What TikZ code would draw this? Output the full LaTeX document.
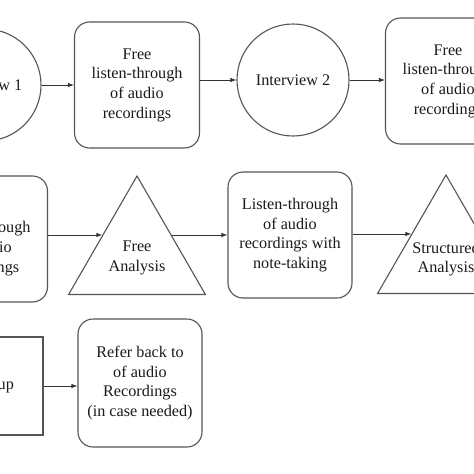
\documentclass[tikz,border=0pt]{standalone}
\usepackage{fontspec}
\setmainfont{Liberation Serif}
\usetikzlibrary{shapes.geometric,arrows.meta}
\definecolor{boxline}{HTML}{555555}
\definecolor{arrowline}{HTML}{333333}
\definecolor{inktext}{HTML}{1A1A1A}

\begin{document}
\begin{tikzpicture}[x=1pt,y=-1pt,
    every node/.style={text=inktext,font=\fontsize{16.2}{19.7}\selectfont,align=center,line width=1.1pt},
    roundbox/.style={draw=boxline,rounded corners=15pt,minimum width=125pt,minimum height=126pt,inner sep=0pt},
    plainbox/.style={draw=boxline,minimum width=116pt,minimum height=98pt},
    talk/.style={draw=boxline,circle,minimum size=112pt,inner sep=0pt},
    stage/.style={draw=boxline,regular polygon,regular polygon sides=3,minimum size=158pt,inner sep=0pt},
    flow/.style={draw=arrowline,line width=0.9pt,-{Latex[length=6pt,width=4.5pt]}}]
    \fill[white] (0,0) rectangle (474,474);
    \useasboundingbox (0,0) rectangle (474,474);
    \clip (0,0) rectangle (474,474);
    % first row
    \node[talk] (int1) at (-15,85) {Interview 1};
    \node[roundbox] (free1) at (137,85) {Free\\listen-through\\of audio\\recordings};
    \node[talk] (int2) at (293,80) {Interview 2};
    \node[roundbox] (free2) at (448,81) {Free\\listen-through\\of audio\\recordings};
    % second row
    \node[roundbox] (free3) at (-15,239) {Free\\listen-through\\of audio\\recordings};
    \node[stage] (ana1) at (137,255) {};
    \node (ana1text) at (137,258) {Free\\Analysis};
    \node[roundbox,minimum width=124pt] (notes) at (290,235) {Listen-through\\of audio\\recordings with\\note-taking};
    \node[stage] (ana2) at (446,254) {};
    \node (ana2text) at (446,259) {Structured\\Analysis};
    % third row
    \node[plainbox] (write) at (-15,386) {Write-up};
    \node[roundbox,minimum width=124pt,minimum height=128pt] (refer) at (140,383) {Refer back to\\of audio\\Recordings\\(in case needed)};
    % arrows
    \draw[flow] (int1) -- (free1);
    \draw[flow] (free1.east |- int2.west) -- (int2.west);
    \draw[flow] (int2.east) -- (int2.east -| free2.west);
    \draw[flow] (free3.east |- ana1.side 1) -- (ana1.side 1);
    \draw[flow] (ana1.side 3) -- (ana1.side 3 -| notes.west);
    \draw[flow] (notes.east |- ana2.side 1) -- (ana2.side 1);
    \draw[flow] (write.east) -- (write.east -| refer.west);
\end{tikzpicture}
\end{document}
